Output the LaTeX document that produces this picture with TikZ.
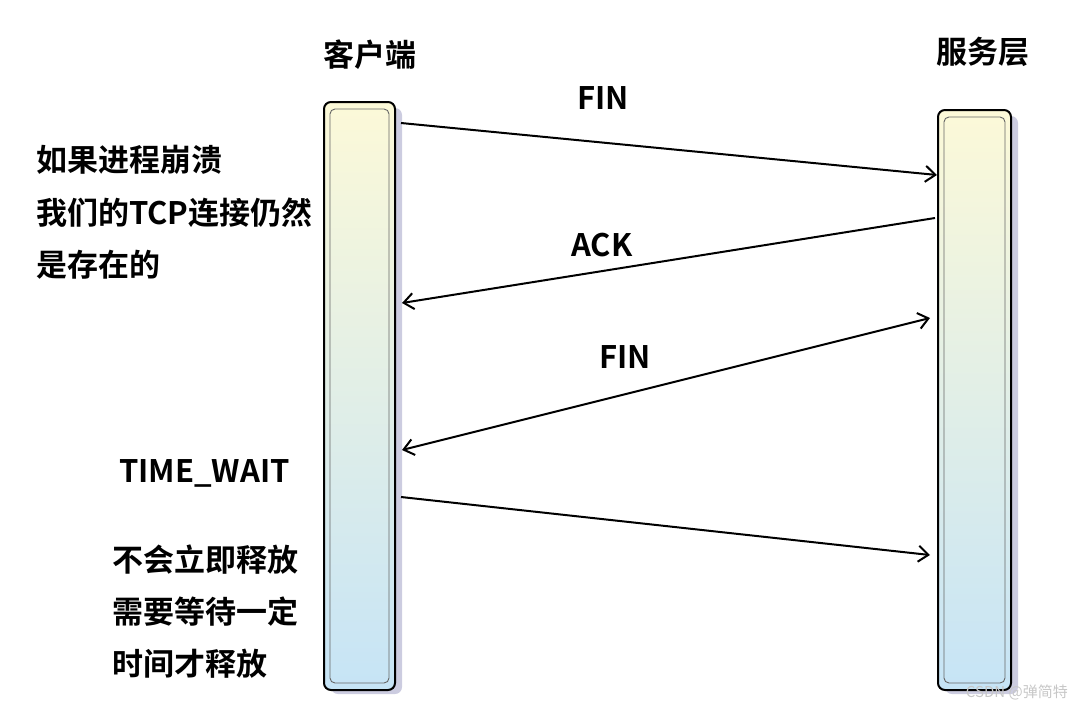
\documentclass[tikz,border=0pt]{standalone}
\usepackage{fontspec}
\newfontfamily\cjk{Noto Sans CJK SC}[BoldFont={* Bold}]
\usetikzlibrary{arrows.meta}
\definecolor{ytop}{HTML}{FCF9D8}
\definecolor{bbot}{HTML}{C6E4F6}
\begin{document}
\begin{tikzpicture}[x=1pt,y=-1pt,
  bar/.style={draw=black,line width=2pt,rounded corners=7pt,top color=ytop,bottom color=bbot},
  inbar/.style={draw=black!60,line width=0.9pt,rounded corners=5pt},
  msg/.style={line width=2pt,-{Straight Barb[length=10pt,width=16pt]}},
  lab/.style={font=\cjk\bfseries\fontsize{31}{34}\selectfont,inner sep=0pt},
  txt/.style={font=\cjk\bfseries\fontsize{31}{34}\selectfont,inner sep=0pt,anchor=west}]
\useasboundingbox (0,0) rectangle (1072,710);
% shadows
\fill[blue!40!black!20,rounded corners=7pt] (331,108) rectangle (402,694);
\fill[blue!40!black!20,rounded corners=7pt] (945,116) rectangle (1018,694);
\node[bar,minimum width=71pt,minimum height=588pt,inner sep=0pt] (L) at (359.5,396) {};
\node[bar,minimum width=73pt,minimum height=580pt,inner sep=0pt] (R) at (974.5,400) {};
\draw[inbar] (330,109) rectangle (389,683);
\draw[inbar] (944,117) rectangle (1005,683);
\node[lab] (cl) at (370,55) {客户端};
\node[lab] (sv) at (983,52) {服务层};
\coordinate (a1) at (401,123); \coordinate (b1) at (937,175);
\coordinate (a2) at (935,218); \coordinate (b2) at (402,303);
\coordinate (a3) at (402,450); \coordinate (b3) at (930,318);
\coordinate (a4) at (401,497); \coordinate (b4) at (930,555);
\draw[msg] (a1) -- (b1);
\draw[msg] (a2) -- (b2);
\draw[msg,{Straight Barb[length=10pt,width=16pt]}-{Straight Barb[length=10pt,width=16pt]}] (a3) -- (b3);
\draw[msg] (a4) -- (b4);
\node[lab] (f1) at (603,98) {FIN};
\node[lab] (k1) at (602,245) {ACK};
\node[lab] (f2) at (625,357) {FIN};
\node[txt] (t1) at (36,160) {如果进程崩溃};
\node[txt] (t2) at (36,213) {我们的TCP连接仍然};
\node[txt] (t3) at (36,265) {是存在的};
\node[txt] (tw) at (119,473) {TIME\_WAIT};
\node[txt] (u1) at (112,560) {不会立即释放};
\node[txt] (u2) at (112,612) {需要等待一定};
\node[txt] (u3) at (112,664) {时间才释放};
\node[font=\cjk\fontsize{15}{17}\selectfont,text=black!22,anchor=east,inner sep=0pt] (wm) at (1068,692) {CSDN @弹简特};
\end{tikzpicture}
\end{document}
